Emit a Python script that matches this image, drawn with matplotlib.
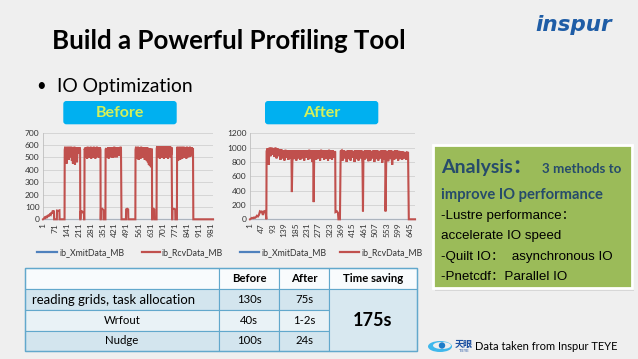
import numpy as np
import matplotlib
matplotlib.use("Agg")
import matplotlib.pyplot as plt
from matplotlib.patches import Rectangle, FancyBboxPatch, Ellipse, Circle
from matplotlib.lines import Line2D

# ---------------- data ----------------
# "Before" chart: ib_RcvData_MB (sample index -> MB)
b_lead_idx = [1, 6, 11, 16, 21, 26, 31, 36, 41, 46, 50, 54, 58, 62, 65, 66, 82, 83, 90, 97, 98, 127]
b_lead_mb = [0, 5, 15, 10, 22, 18, 30, 28, 40, 35, 55, 45, 70, 55, 70, 0, 0, 70, 68, 72, 0, 0]
b_run1_mb = [560, 585, 470, 580, 450, 585, 520, 575, 480, 585, 530, 580, 500, 585, 470, 580,
             450, 575, 520, 585, 440, 580, 500, 575, 460, 580, 530, 575, 540, 580, 560, 0]
b_gap1_idx = [220, 221, 228, 235, 240, 241, 243]
b_gap1_mb = [0, 60, 65, 55, 60, 0, 0]
b_run2_mb = [570, 560, 580, 500, 575, 490, 585, 520, 580, 495, 575, 530, 585, 490, 580, 510,
             575, 495, 585, 520, 580, 490, 575, 540, 585, 500, 580, 520, 575, 495, 580, 560, 0]
b_gap2_idx = [339, 340, 347, 354, 355, 366]
b_gap2_mb = [0, 80, 85, 75, 0, 0]
b_run3_mb = [560, 575, 500, 570, 520, 580, 490, 575, 530, 580, 500, 570, 510, 580, 495, 575,
             540, 585, 500, 575, 520, 580, 500, 575, 530, 580, 510, 575, 540, 585, 560, 0]
b_gap3_idx = [486, 487, 493, 499, 500, 541]
b_gap3_mb = [0, 80, 85, 80, 0, 0]
b_run4_mb = [560, 585, 490, 580, 510, 585, 480, 575, 530, 580, 490, 585, 510, 575, 495, 580,
             520, 575, 480, 580, 500, 575, 470, 580, 460, 570, 440, 575, 430, 560, 420, 570, 560, 0]
b_gap4_idx = [640, 641, 647, 652, 653, 665]
b_gap4_mb = [0, 80, 85, 80, 0, 0]
b_run5_mb = [570, 590, 500, 585, 520, 590, 490, 580, 530, 590, 495, 585, 510, 590, 490, 580,
             520, 590, 495, 585, 515, 590, 490, 580, 530, 590, 500, 585, 520, 580, 0]
b_gap5_idx = [757, 758, 765, 774, 775, 784]
b_gap5_mb = [0, 80, 85, 80, 0, 0]
b_run6_mb = [560, 585, 470, 580, 520, 585, 480, 575, 510, 585, 490, 580, 530, 585, 495, 575,
             510, 580, 490, 585, 520, 575, 500, 580, 530, 585, 505, 575, 520, 580, 540, 575, 0]
b_tail_idx = [881, 995]
b_tail_mb = [0, 0]
before_xmit_idx = [1, 995]
before_xmit_mb = [0, 0]

# "After" chart: ib_RcvData_MB
a_lead_idx = [1, 5, 9, 13, 17, 21, 25, 29, 33, 37, 41, 45, 49, 53, 57, 61, 64, 67]
a_lead_mb = [0, 10, 20, 15, 25, 20, 30, 50, 40, 60, 110, 100, 115, 60, 110, 115, 100, 0]
a_run1_mb = [950, 990, 760, 1000, 880, 1000, 900, 995, 870, 1000,
             850, 990, 880, 980, 830, 975, 850, 965, 820, 970,
             860, 960, 830, 965, 850, 960, 800, 965, 840, 960,
             820, 965, 850, 960, 830, 965, 850, 960, 820, 965,
             860, 960, 830, 970, 850, 960, 800, 965, 840, 960,
             830, 965, 850, 960, 820, 970, 860, 960, 830, 965,
             850, 960, 820, 970, 850, 960, 830, 965, 860, 950]
a_mid_idx = [345, 346, 352, 356, 358, 364]
a_mid_mb = [940, 100, 110, 90, 0, 0]
a_run2_mb = [950, 960, 820, 965, 850, 955, 800, 960, 840, 965,
             820, 960, 860, 955, 800, 965, 840, 960, 820, 965,
             850, 960, 780, 955, 830, 965, 850, 960, 810, 965,
             820, 955, 850, 960, 800, 965, 840, 960, 820, 955,
             850, 960, 790, 965, 830, 960, 850, 955, 810, 965,
             840, 960, 760, 955, 830, 965, 850, 960, 820, 955,
             840, 950, 830, 945, 850, 940, 830, 935, 930]
a_tail_idx = [642, 667]
a_tail_mb = [0, 0]
a_spike_idx = [170, 258, 457, 548]
a_spike_mb = [380, 240, 110, 110]
after_xmit_idx = [1, 667]
after_xmit_mb = [0, 0]

before_yticks = [0, 100, 200, 300, 400, 500, 600, 700]
after_yticks = [0, 200, 400, 600, 800, 1000, 1200]
before_xticks = [1, 71, 141, 211, 281, 351, 421, 491, 561, 631, 701, 771, 841, 911, 981]
after_xticks = [1, 47, 93, 139, 185, 231, 277, 323, 369, 415, 461, 507, 553, 599, 645]
series_names = ["ib_XmitData_MB", "ib_RcvData_MB"]

table_header = ["", "Before", "After", "Time saving"]
table_stages = ["reading grids, task allocation", "Wrfout", "Nudge"]
table_before = ["130s", "40s", "100s"]
table_after = ["75s", "1-2s", "24s"]
table_saving = "175s"

# --------------- assemble series ---------------
before_idx = np.array(b_lead_idx + list(range(128, 219, 3)) + [219] + b_gap1_idx
                      + list(range(244, 338, 3)) + [338] + b_gap2_idx
                      + list(range(367, 458, 3)) + [460] + b_gap3_idx
                      + list(range(542, 639, 3)) + [639] + b_gap4_idx
                      + list(range(666, 754, 3)) + [756] + b_gap5_idx
                      + list(range(785, 879, 3)) + [880] + b_tail_idx)
before_mb = np.array(b_lead_mb + b_run1_mb + b_gap1_mb + b_run2_mb + b_gap2_mb + b_run3_mb
                     + b_gap3_mb + b_run4_mb + b_gap4_mb + b_run5_mb + b_gap5_mb + b_run6_mb + b_tail_mb)

after_idx = np.array(a_lead_idx + list(range(68, 345, 4)) + a_mid_idx
                     + list(range(367, 641, 4)) + a_tail_idx + a_spike_idx)
after_mb = np.array(a_lead_mb + a_run1_mb + a_mid_mb + a_run2_mb + a_tail_mb + a_spike_mb)
order = np.argsort(after_idx, kind="stable")
after_idx, after_mb = after_idx[order], after_mb[order]

# --------------- figure ---------------
W, H = 638, 359
fig = plt.figure(figsize=(W / 100, H / 100), dpi=100)
fig.patch.set_facecolor('#EFEFEF')
bg = fig.add_axes([0, 0, 1, 1])
bg.set_xlim(0, W); bg.set_ylim(H, 0); bg.axis('off')
bg.set_zorder(0)

CJK = ['Noto Sans CJK SC']
renderer = fig.canvas.get_renderer()


def fit(t, width):
    w = t.get_window_extent(renderer).width
    t.set_fontsize(t.get_fontsize() * width / w)
    return t


def px_axes(l, t, r, b):
    ax = fig.add_axes([l / W, 1 - b / H, (r - l) / W, (b - t) / H])
    ax.set_zorder(2)
    ax.patch.set_alpha(0)
    return ax


RED = '#C0504D'
BLUE = '#4F81BD'

# title and bullet
fit(bg.text(52, 49, "Build a Powerful Profiling Tool", family='Lato', fontweight='bold',
            fontsize=18, color='black', va='baseline'), 353)
bg.text(36, 91, "•", family='Lato', fontsize=12, color='black', va='baseline')
fit(bg.text(57, 92, "IO Optimization", family='Lato', fontsize=14, color='black', va='baseline'), 136)

# inspur logo
fit(bg.text(535, 25, "inspur", family='DejaVu Sans', fontweight='bold', style='italic',
            fontsize=14, color='#1F5DA6', ha='left', va='center'), 77)

# Before / After labels
for (x0, x1, label) in [(63.3, 176.7, "Before"), (265, 378.3, "After")]:
    bg.add_patch(FancyBboxPatch((x0, 101), x1 - x0, 23.3,
                                boxstyle="round,pad=0,rounding_size=3",
                                facecolor='#00B0F0', edgecolor='none'))
    bg.text((x0 + x1) / 2, 113, label, family='Lato', fontweight='bold', fontsize=11.5,
            color='#D4F05A', ha='center', va='center')


def style_chart(ax, xlim, ylim, yticks, xticks):
    ax.set_xlim(*xlim)
    ax.set_ylim(*ylim)
    ax.set_yticks(yticks)
    ax.set_yticklabels([str(v) for v in yticks], family='Lato', fontsize=6, color='#333333')
    ax.set_xticks(xticks)
    ax.set_xticklabels([str(v) for v in xticks], family='Lato', fontsize=6, color='#333333',
                       rotation=90)
    ax.tick_params(length=0, pad=2.5)
    ax.grid(axis='y', color='#D0D0D0', lw=0.6)
    ax.set_axisbelow(True)
    for s in ['top', 'right']:
        ax.spines[s].set_visible(False)
    for s in ['left', 'bottom']:
        ax.spines[s].set_color('#BFBFBF')
        ax.spines[s].set_linewidth(0.6)


axb = px_axes(43, 132.5, 213, 219.3)
axb.plot(before_xmit_idx, before_xmit_mb, color=BLUE, lw=0.8, clip_on=False, zorder=1)
axb.plot(before_idx, before_mb, color=RED, lw=1.5, clip_on=False, solid_joinstyle='miter', zorder=3)
style_chart(axb, (1, 995), (0, 700), before_yticks, before_xticks)

axa = px_axes(250, 133.3, 415, 219.3)
axa.plot(after_xmit_idx, after_xmit_mb, color=BLUE, lw=0.8, clip_on=False, zorder=1)
axa.plot(after_idx, after_mb, color=RED, lw=1.5, clip_on=False, solid_joinstyle='miter', zorder=3)
style_chart(axa, (1, 667), (0, 1200), after_yticks, after_xticks)

# legends
for (lx0, lx1, tx, col, name) in [(37, 57, 59, BLUE, series_names[0]),
                                  (142, 160, 162, RED, series_names[1]),
                                  (240, 259, 261, BLUE, series_names[0]),
                                  (340, 359, 362, RED, series_names[1])]:
    bg.add_line(Line2D([lx0, lx1], [252, 252], color=col, lw=1.6))
    bg.text(tx, 252.5, name, family='Lato', fontsize=6.3, color='#333333', va='center')

# analysis box
bg.add_patch(Rectangle((435, 147.5), 199, 143, facecolor='#C8C8C8', edgecolor='none', alpha=0.6))
bg.add_patch(Rectangle((433, 145), 199, 143, facecolor='#9BBB59', edgecolor='white', lw=2))
HEAD = '#264B6B'
bg.text(441, 173, "Analysis：", family=['Lato'] + CJK, fontweight='bold', fontsize=14,
        color=HEAD, va='baseline')
fit(bg.text(542, 173, "3 methods to", family='Lato', fontweight='bold', fontsize=10,
            color=HEAD, va='baseline'), 79)
fit(bg.text(441, 198.5, "improve IO performance", family='Lato', fontweight='bold', fontsize=10,
            color=HEAD, va='baseline'), 162)
body = ['Liberation Sans'] + CJK
for y, s in [(219, "-Lustre performance："), (239.5, "accelerate IO speed"),
             (260, "-Quilt IO：  asynchronous IO"), (280, "-Pnetcdf：Parallel IO")]:
    bg.text(441, y, s, family=body, fontsize=9.6, color='black', va='baseline')

# table
col_x = [25, 219.3, 279.3, 329, 416.7]
row_y = [268.3, 289.3, 310, 330.7, 350.7]
row_fill = ['#F8FBFD', '#D3E5EE', '#E9F2F6', '#D3E5EE']
EDGE = '#62A8CC'
for r in range(4):
    for c in range(3):
        bg.add_patch(Rectangle((col_x[c], row_y[r]), col_x[c + 1] - col_x[c], row_y[r + 1] - row_y[r],
                               facecolor=row_fill[r], edgecolor=EDGE, lw=0.8))
bg.add_patch(Rectangle((col_x[3], row_y[0]), col_x[4] - col_x[3], row_y[1] - row_y[0],
                       facecolor=row_fill[0], edgecolor=EDGE, lw=0.8))
bg.add_patch(Rectangle((col_x[3], row_y[1]), col_x[4] - col_x[3], row_y[4] - row_y[1],
                       facecolor='#D8E8F0', edgecolor=EDGE, lw=0.8))
bg.add_patch(Rectangle((col_x[0], row_y[0]), col_x[4] - col_x[0], row_y[4] - row_y[0],
                       facecolor='none', edgecolor=EDGE, lw=1.0))
TF = 8.2
for c in range(1, 4):
    bg.text((col_x[c] + col_x[c + 1]) / 2, (row_y[0] + row_y[1]) / 2, table_header[c],
            family='Lato', fontweight='bold', fontsize=TF, ha='center', va='center', color='black')
for r in range(3):
    yc = (row_y[r + 1] + row_y[r + 2]) / 2
    if r == 0:
        fit(bg.text(31.7, yc, table_stages[r], family='Lato', fontsize=TF, ha='left', va='center',
                    color='black'), 163)
    else:
        bg.text((col_x[0] + col_x[1]) / 2, yc, table_stages[r], family='Lato', fontsize=TF,
                ha='center', va='center', color='black')
    bg.text((col_x[1] + col_x[2]) / 2, yc, table_before[r], family='Lato', fontsize=TF,
            ha='center', va='center', color='black')
    bg.text((col_x[2] + col_x[3]) / 2, yc, table_after[r], family='Lato', fontsize=TF,
            ha='center', va='center', color='black')
bg.text((col_x[3] + col_x[4]) / 2, (row_y[1] + row_y[4]) / 2, table_saving, family='Lato',
        fontweight='bold', fontsize=13, ha='center', va='center', color='black')

# footer logo + note
bg.add_patch(Ellipse((440, 346.5), 24, 11, facecolor='#3FB8EC', edgecolor='none'))
bg.add_patch(Ellipse((442, 345.5), 18, 7, facecolor='#EFEFEF', edgecolor='none'))
bg.add_patch(Circle((442, 345.5), 3.2, facecolor='#1C7CC8', edgecolor='none'))
bg.text(464, 344, "天眼", family=CJK, fontweight='bold', fontsize=6.5, color='#1A4FA0',
        ha='center', va='center')
bg.text(464, 351.5, "TEYE", family='DejaVu Sans', fontsize=2.8, color='#1A4FA0',
        ha='center', va='center')
bg.text(475, 347, "Data taken from Inspur TEYE", family='Lato', fontsize=8, color='black',
        va='center')

fig.savefig('out.png', dpi=100, facecolor=fig.get_facecolor())
